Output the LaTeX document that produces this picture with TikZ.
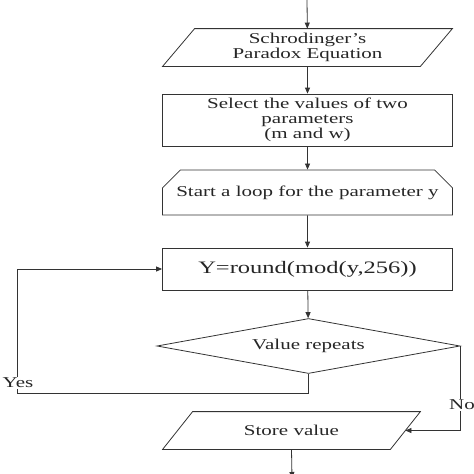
\documentclass[tikz,border=0pt]{standalone}
\usepackage{fontspec}
\setmainfont{Liberation Serif}[FakeStretch=1.4]
\usepackage{tikz}
\usetikzlibrary{arrows.meta}
\usetikzlibrary{shapes.geometric}
\usetikzlibrary{shapes.misc}

\tikzset{
  flow/.style={draw=black!80, line width=0.8pt, text=black!85, align=center,
    inner sep=1pt, font=\fontsize{15}{15}\selectfont},
  iobox/.style={flow, draw=none, rectangle, minimum height=37pt},
  outline/.style={draw=black!80, line width=0.8pt, line join=miter},
  procbox/.style={flow, rectangle, minimum width=290pt},
  loopbox/.style={flow, chamfered rectangle, chamfered rectangle corners={north west,north east},
    chamfered rectangle xsep=20pt, chamfered rectangle ysep=10pt,
    minimum width=290pt, minimum height=45pt},
  decide/.style={flow, diamond, aspect=5.5, minimum width=303pt, minimum height=55pt},
  lbl/.style={fill=white, text=black!85, inner sep=1pt, font=\fontsize{15}{15}\selectfont},
  line/.style={draw=black!80, line width=0.8pt, -{Triangle[length=6pt,width=5pt]}}
}

\begin{document}
\begin{tikzpicture}[x=1pt, y=-1pt]
  \useasboundingbox (0,0) rectangle (474,474);

  % 図形
  \node[iobox, minimum width=225pt]   (eqn)   at (307.5,47.5) {Schrodinger’s\\Paradox Equation};
  \node[procbox, minimum height=52pt] (param) at (307.5,120)  {Select the values of two\\parameters\\(m and w)};
  \node[loopbox]                      (loop)  at (307.5,192.5) {Start a loop for the parameter y};
  \node[procbox, minimum height=42pt, font=\fontsize{17.5}{18}\selectfont]
                                      (calc)  at (307.5,269)  {Y=round(mod(y,256))};
  \node[decide]                       (rep)   at (308.5,346)  {Value repeats};
  \node[iobox, minimum width=197pt]   (store) at (291.5,430.5) {Store value};

  % 平行四辺形
  \draw[outline] (eqn.north west) -- ([xshift=32pt]eqn.north east)
    -- (eqn.south east) -- ([xshift=-32pt]eqn.south west) -- cycle;
  \draw[outline] (store.north west) -- ([xshift=30pt]store.north east)
    -- (store.south east) -- ([xshift=-30pt]store.south west) -- cycle;

  % 端点
  \coordinate (top)    at (307,-2);
  \coordinate (yesc)   at (17,393);
  \coordinate (bot)    at (292,478);
  \coordinate (storeE) at ([xshift=15pt]store.east);

  % 矢印
  \draw[line] (top) -- (eqn);
  \draw[line] (eqn) -- (param);
  \draw[line] (param) -- (loop);
  \draw[line] (loop) -- (calc);
  \draw[line] (calc) -- (rep);
  \draw[line] (rep.south) |- (yesc) |- (calc.west);
  \draw[line] (rep.east) |- (storeE);
  \draw[line] (store.south) -- (bot);

  % ラベル
  \node[lbl] (yes) at (18,383) {Yes};
  \node[lbl] (no)  at (462,405) {No};
\end{tikzpicture}
\end{document}
